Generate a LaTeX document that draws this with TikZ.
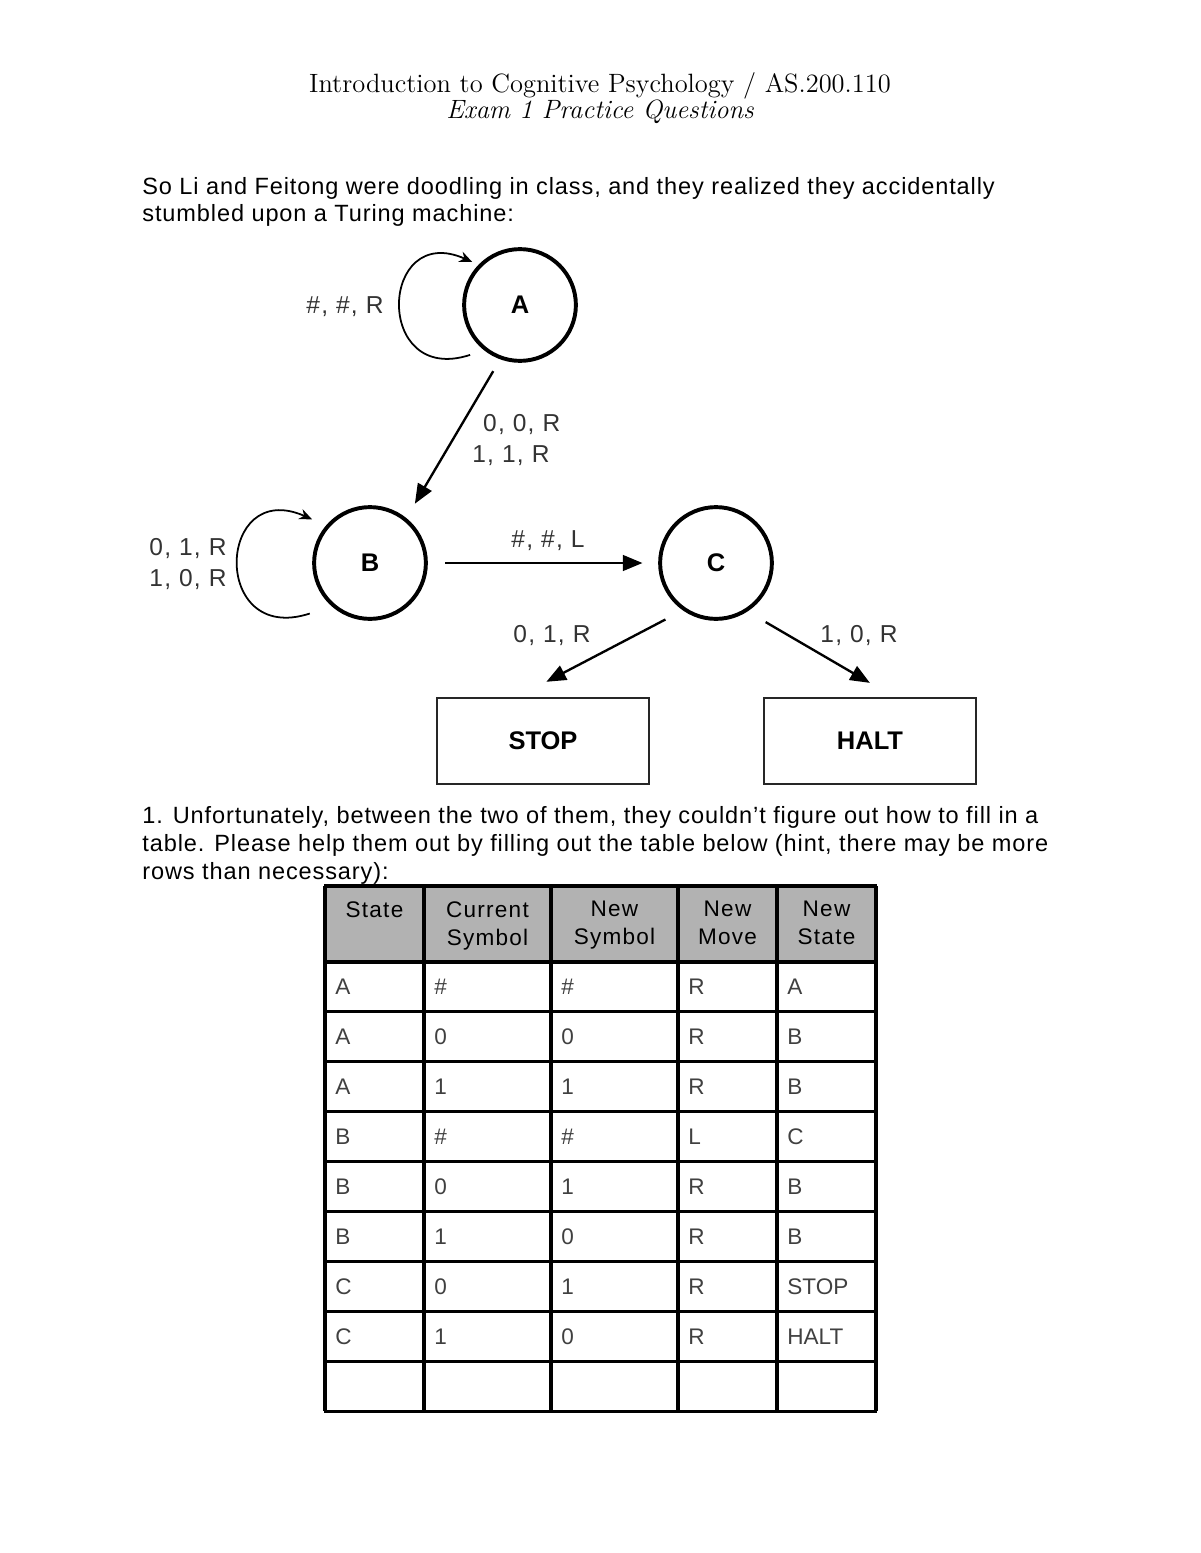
\documentclass[tikz,border=0pt]{standalone}
\usepackage{fontspec}
\setsansfont{Liberation Sans}
\newfontfamily\bodyfont{Liberation Sans}[LetterSpace=3.8]
\newfontfamily\headfont{Liberation Sans}[LetterSpace=5.5]
\newfontfamily\labelfont{Liberation Sans}[LetterSpace=5]
\usetikzlibrary{arrows.meta, positioning, shapes}

\begin{document}
\begin{tikzpicture}[
        x=0.51pt, y=0.51pt,
        state/.style={
            circle,
            draw=black,
            line width=2pt,
            minimum size=57pt,
            inner sep=0pt,
            font=\sffamily\bfseries\fontsize{13}{15}\selectfont
        },
        endbox/.style={
            rectangle,
            draw=black!85,
            line width=1pt,
            minimum width=108pt,
            minimum height=44pt,
            font=\sffamily\bfseries\fontsize{13}{15}\selectfont
        },
        trans/.style={
            align=center,
            inner sep=0pt,
            text=black!80,
            font=\labelfont\fontsize{12.5}{16.3}\selectfont
        },
        line/.style={
            anchor=base west,
            inner sep=0pt,
            font=\bodyfont\fontsize{12}{14}\selectfont
        },
        head/.style={
            anchor=north,
            align=center,
            inner sep=0pt,
            font=\headfont\fontsize{11.5}{14.3}\selectfont
        },
        cell/.style={
            anchor=west,
            inner sep=0pt,
            text=black!75,
            font=\sffamily\fontsize{11.5}{14}\selectfont
        },
        arrow/.style={
            -{Triangle[length=10pt, width=8pt]},
            line width=1.2pt,
            draw=black
        },
        looparrow/.style={
            -{Stealth[length=6.5pt, width=5.5pt]},
            line width=0.9pt,
            draw=black
        },
        grid/.style={
            line width=1.6pt,
            draw=black
        }
    ]
        \useasboundingbox (0,0) rectangle (1200,-1553);

        % title and question text
        \node (title) [anchor=base, inner sep=0pt, font=\fontsize{13.5}{16}\selectfont] at (600,-93) {Introduction to Cognitive Psychology / AS.200.110};
        \node (subtitle) [anchor=base, inner sep=0pt, font=\itshape\fontsize{13.5}{16}\selectfont] at (600,-119) {Exam 1 Practice Questions};
        \node (intro1) [line] at (142,-194) {So Li and Feitong were doodling in class, and they realized they accidentally};
        \node (intro2) [line] at (142,-222) {stumbled upon a Turing machine:};

        % machine
        \node (A) [state] at (520,-305) {A};
        \node (B) [state] at (370,-563) {B};
        \node (C) [state] at (716,-563) {C};
        \node (stop) [endbox] at (543,-741) {STOP};
        \node (halt) [endbox] at (870,-741) {HALT};

        \draw [looparrow] ([shift={(225:6.5pt)}]A.225) to[out=198, in=156, distance=52pt] ([shift={(138:3.3pt)}]A.138);
        \draw [looparrow] ([shift={(220:10.6pt)}]B.220) to[out=198, in=156, distance=53.5pt] ([shift={(143:7.5pt)}]B.143);
        \draw [arrow, shorten <=7pt, shorten >=8.5pt] (A.250) -- (B.51);
        \draw [arrow, shorten <=9pt, shorten >=8pt] (B) -- (C);
        \draw [arrow, shorten <=10pt, shorten >=16.6pt] (C.235) -- ([xshift=-13pt]stop.north);
        \draw [arrow, shorten <=10.7pt, shorten >=14.2pt] (C.303) -- ([xshift=12.2pt]halt.north);

        \node (tAA) [trans] at (345,-307) {\#, \#, R};
        \node (tBB) [trans] at (188,-564) {0, 1, R\\1, 0, R};
        \node (tAB) [trans, align=left, anchor=west] at (472,-440) {\hspace*{5.5pt}0, 0, R\\1, 1, R};
        \node (tBC) [trans] at (548,-541) {\#, \#, L};
        \node (tCS) [trans] at (552,-636) {0, 1, R};
        \node (tCH) [trans] at (859,-636) {1, 0, R};

        % question
        \node (q1) [line] at (142,-823) {1. Unfortunately, between the two of them, they couldn’t figure out how to fill in a};
        \node (q2) [line] at (142,-851) {table. Please help them out by filling out the table below (hint, there may be more};
        \node (q3) [line] at (142,-879) {rows than necessary):};

        % table
        \fill [black!30] (325,-886) rectangle (876,-962);
        \foreach \cx/\txt [count=\k] in {374.5/State, 487.5/Current\\Symbol, 614.5/New\\Symbol, 727.5/New\\Move, 826.5/New\\State}
            \node (h\k) [head] at (\cx,-901) {\txt};
        \foreach \st/\cs/\ns/\mv/\nw [count=\r] in {A/\#/\#/R/A, A/0/0/R/B, A/1/1/R/B, B/\#/\#/L/C, B/0/1/R/B, B/1/0/R/B, C/0/1/R/STOP, C/1/0/R/HALT} {
            \node (r\r a) [cell] at (335,-987-49.9*\r+49.9) {\st};
            \node (r\r b) [cell] at (434,-987-49.9*\r+49.9) {\cs};
            \node (r\r c) [cell] at (561,-987-49.9*\r+49.9) {\ns};
            \node (r\r d) [cell] at (688,-987-49.9*\r+49.9) {\mv};
            \node (r\r e) [cell] at (787,-987-49.9*\r+49.9) {\nw};
        }
        \foreach \gx in {325, 424, 551, 678, 777, 876}
            \draw [grid] (\gx,-886) -- (\gx,-1411);
        \draw [grid] (324.2,-886) -- (876.8,-886);
        \foreach \r in {0,...,9}
            \draw [grid] (324.2,-962-49.9*\r) -- (876.8,-962-49.9*\r);
    \end{tikzpicture}
\end{document}
